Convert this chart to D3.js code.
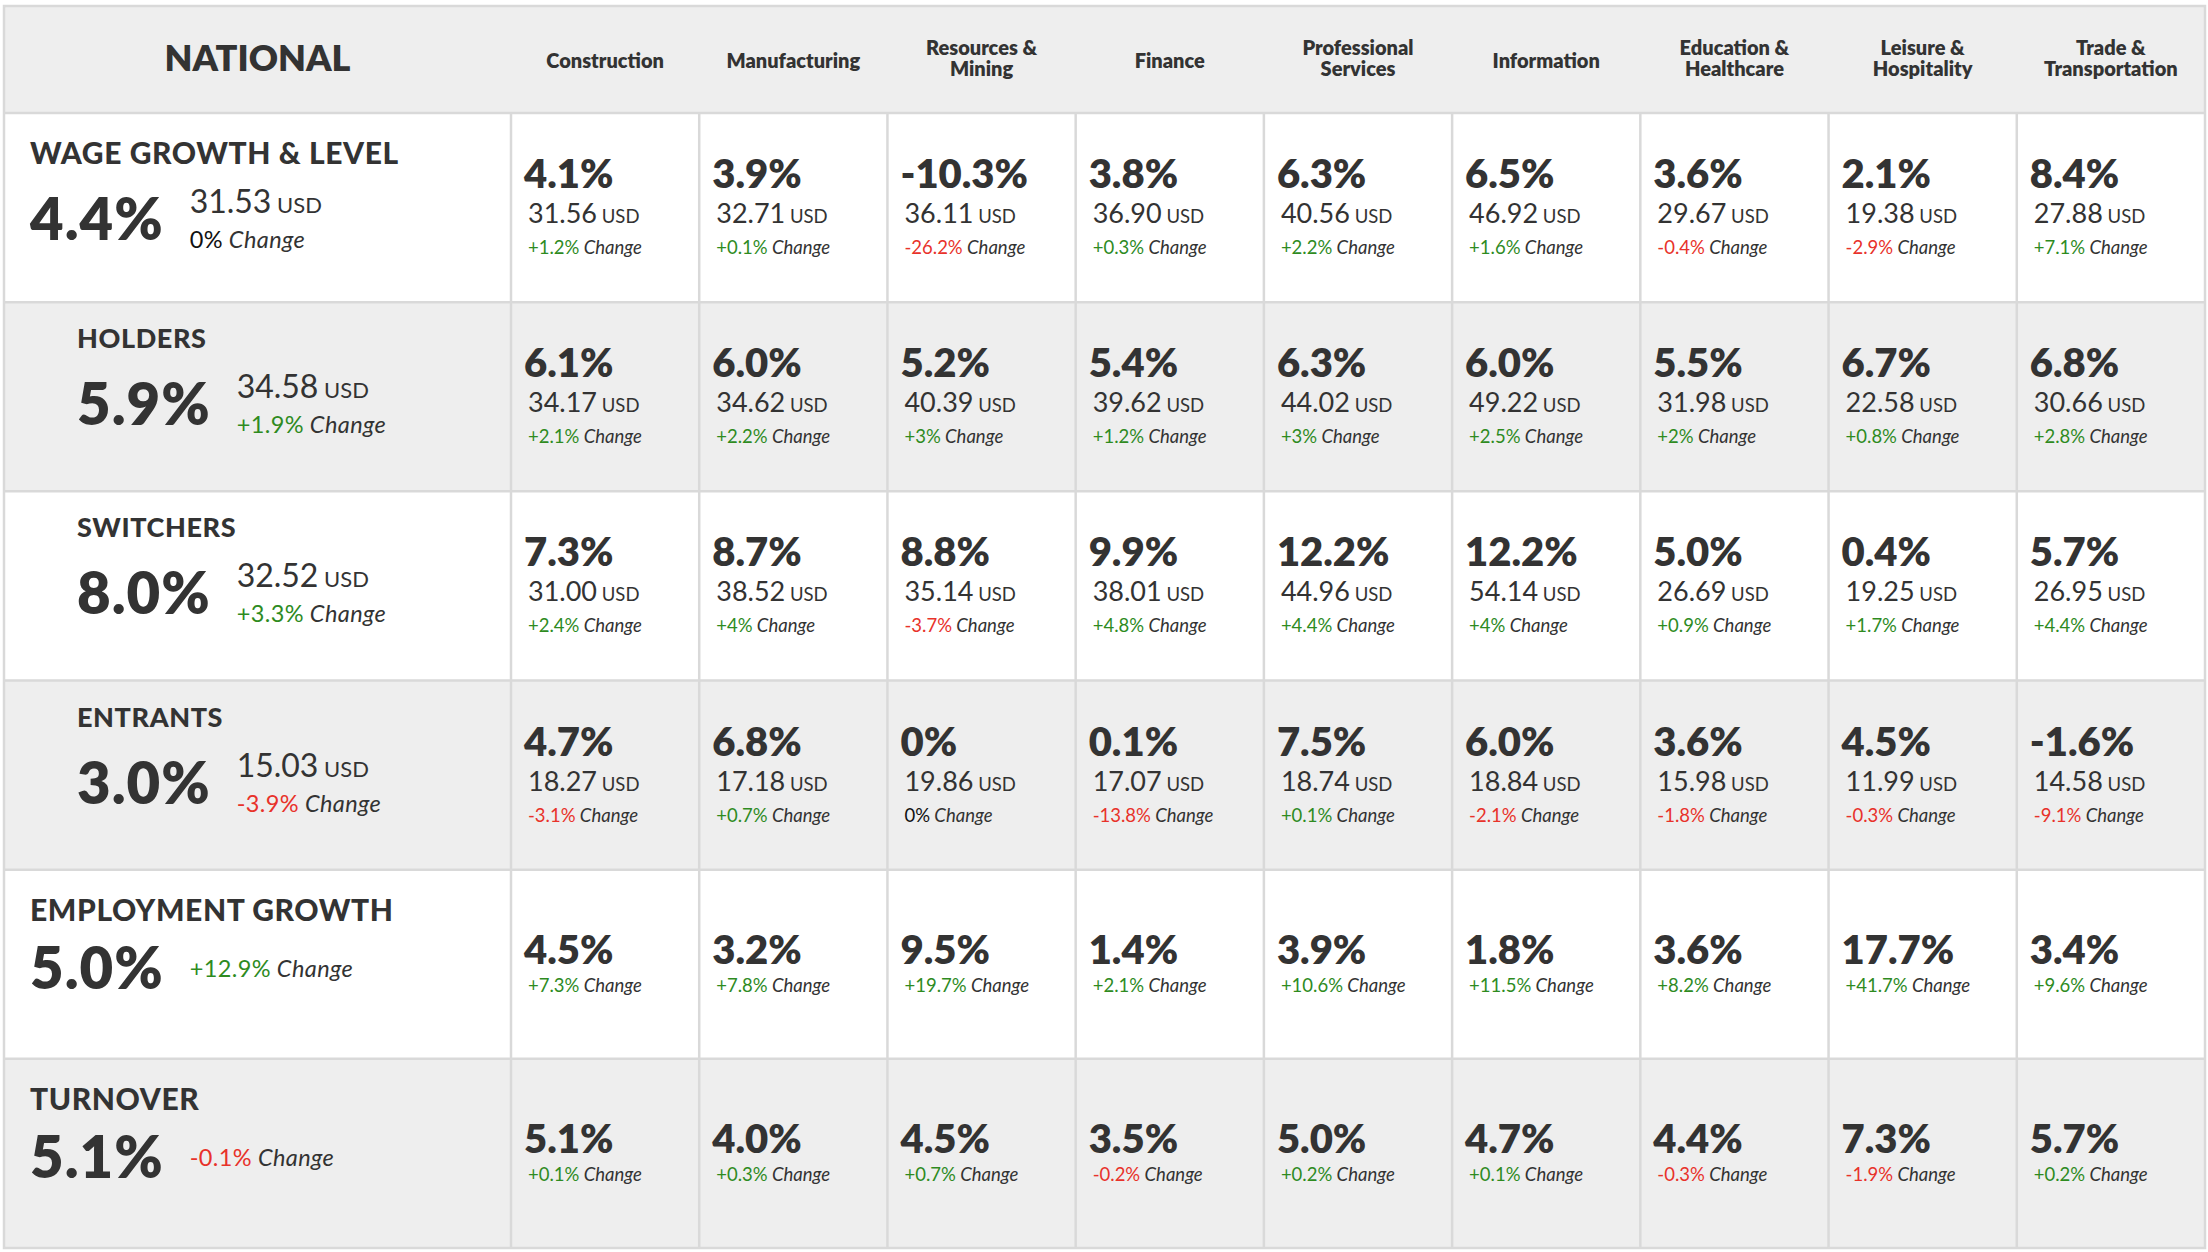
<!DOCTYPE html>
<html>
<head>
<meta charset="utf-8">
<script src="https://cdn.jsdelivr.net/npm/d3@7"></script>
<style>
  body { margin: 0; background: #fff; }
  svg text { font-family: Lato, "Open Sans", sans-serif; fill: #333; }
</style>
</head>
<body>
<svg id="grid" width="2208" height="1252"></svg>
<script>
// columns
var sectors = ["Construction", "Manufacturing", "Resources & Mining", "Finance",
  "Professional Services", "Information", "Education & Healthcare",
  "Leisure & Hospitality", "Trade & Transportation"];
var sectorLines = [["Construction"], ["Manufacturing"], ["Resources &", "Mining"], ["Finance"],
  ["Professional", "Services"], ["Information"], ["Education &", "Healthcare"],
  ["Leisure &", "Hospitality"], ["Trade &", "Transportation"]];

// rows (level 1 = indented sub group of wage)
var metrics = ["WAGE GROWTH & LEVEL", "HOLDERS", "SWITCHERS", "ENTRANTS", "EMPLOYMENT GROWTH", "TURNOVER"];
var metricLevel = [0, 1, 1, 1, 0, 0];

// national column
var nationalGrowth = [4.4, 5.9, 8.0, 3.0, 5.0, 5.1];
var nationalWage = [31.53, 34.58, 32.52, 15.03, null, null];
var nationalChange = [0, 1.9, 3.3, -3.9, 12.9, -0.1];

// per sector, one array per metric
var wageGrowth = [4.1, 3.9, -10.3, 3.8, 6.3, 6.5, 3.6, 2.1, 8.4];
var wageLevel = [31.56, 32.71, 36.11, 36.90, 40.56, 46.92, 29.67, 19.38, 27.88];
var wageChange = [1.2, 0.1, -26.2, 0.3, 2.2, 1.6, -0.4, -2.9, 7.1];

var holdersGrowth = [6.1, 6.0, 5.2, 5.4, 6.3, 6.0, 5.5, 6.7, 6.8];
var holdersLevel = [34.17, 34.62, 40.39, 39.62, 44.02, 49.22, 31.98, 22.58, 30.66];
var holdersChange = [2.1, 2.2, 3, 1.2, 3, 2.5, 2, 0.8, 2.8];

var switchersGrowth = [7.3, 8.7, 8.8, 9.9, 12.2, 12.2, 5.0, 0.4, 5.7];
var switchersLevel = [31.00, 38.52, 35.14, 38.01, 44.96, 54.14, 26.69, 19.25, 26.95];
var switchersChange = [2.4, 4, -3.7, 4.8, 4.4, 4, 0.9, 1.7, 4.4];

var entrantsGrowth = [4.7, 6.8, 0, 0.1, 7.5, 6.0, 3.6, 4.5, -1.6];
var entrantsLevel = [18.27, 17.18, 19.86, 17.07, 18.74, 18.84, 15.98, 11.99, 14.58];
var entrantsChange = [-3.1, 0.7, 0, -13.8, 0.1, -2.1, -1.8, -0.3, -9.1];

var employmentGrowth = [4.5, 3.2, 9.5, 1.4, 3.9, 1.8, 3.6, 17.7, 3.4];
var employmentChange = [7.3, 7.8, 19.7, 2.1, 10.6, 11.5, 8.2, 41.7, 9.6];

var turnoverRate = [5.1, 4.0, 4.5, 3.5, 5.0, 4.7, 4.4, 7.3, 5.7];
var turnoverChange = [0.1, 0.3, 0.7, -0.2, 0.2, 0.1, -0.3, -1.9, 0.2];

var growthRows = [wageGrowth, holdersGrowth, switchersGrowth, entrantsGrowth, employmentGrowth, turnoverRate];
var levelRows = [wageLevel, holdersLevel, switchersLevel, entrantsLevel, null, null];
var changeRows = [wageChange, holdersChange, switchersChange, entrantsChange, employmentChange, turnoverChange];

var green = "#2e8b1f", red = "#e8322a", lineCol = "#d9d9d9", shade = "#eeeeee";

function fmtGrowth(v) { return v === 0 ? "0%" : v.toFixed(1) + "%"; }
function fmtChange(v) {
  if (v === 0) return "0%";
  return (v > 0 ? "+" : "") + (+v.toFixed(1)) + "%";
}
function changeColor(v) { return v > 0 ? green : (v < 0 ? red : "#111"); }

var svg = d3.select("#grid");
// note: "top" is taken by window.top, so use x0/x1/y0/y1
var x0 = 4, x1 = 2205, y0 = 6, y1 = 1248,
  headH = 107, firstW = 507;

var x = d3.scaleBand().domain(sectors).range([x0 + firstW, x1]);
var y = d3.scaleBand().domain(metrics).range([y0 + headH, y1]);

// backgrounds
svg.append("rect").attr("x", x0).attr("y", y0).attr("width", x1 - x0)
  .attr("height", headH).attr("fill", shade);
svg.selectAll(".rowbg").data(metrics).enter().append("rect")
  .attr("class", "rowbg")
  .attr("x", x0).attr("y", function(d) { return y(d); })
  .attr("width", x1 - x0).attr("height", y.bandwidth())
  .attr("fill", function(d, i) { return i % 2 ? shade : "#fff"; });

// grid lines
var g = svg.append("g").attr("stroke", lineCol).attr("stroke-width", 2.5).attr("fill", "none");
g.append("rect").attr("x", x0).attr("y", y0).attr("width", x1 - x0).attr("height", y1 - y0);
g.selectAll(".hl").data(metrics).enter().append("line")
  .attr("x1", x0).attr("x2", x1)
  .attr("y1", function(d) { return y(d); }).attr("y2", function(d) { return y(d); });
g.selectAll(".vl").data(sectors).enter().append("line")
  .attr("x1", function(d) { return x(d); }).attr("x2", function(d) { return x(d); })
  .attr("y1", y0 + headH).attr("y2", y1);

// header
svg.append("text").attr("x", x0 + firstW / 2).attr("y", 71)
  .attr("text-anchor", "middle").attr("font-size", 36).attr("font-weight", 800)
  .text("NATIONAL");

svg.selectAll(".head").data(sectors).enter().append("text")
  .attr("class", "head")
  .attr("text-anchor", "middle").attr("font-size", 20).attr("font-weight", 800)
  .attr("transform", function(d) { return "translate(" + (x(d) + x.bandwidth() / 2) + ",0)"; })
  .each(function(d, i) {
    var lines = sectorLines[i];
    var base = lines.length === 1 ? 68 : 55;
    d3.select(this).selectAll("tspan").data(lines).enter().append("tspan")
      .attr("x", 0).attr("y", function(l, k) { return base + k * 21; })
      .text(function(l) { return l; });
  });

// national column
metrics.forEach(function(m, i) {
  var r = y(m);
  var sub = metricLevel[i] === 1;
  var hasWage = nationalWage[i] !== null;
  var lx = sub ? 77 : 30;

  svg.append("text").attr("x", lx).attr("y", r + (sub ? 46 : 51))
    .attr("font-size", sub ? 27 : 30).attr("font-weight", 900)
    .attr("letter-spacing", 0.6)
    .text(m);

  var big = svg.append("text").attr("x", lx).attr("y", r + (hasWage ? (sub ? 123 : 127) : 119))
    .attr("font-size", 58).attr("font-weight", 800).attr("letter-spacing", 1)
    .text(fmtGrowth(nationalGrowth[i]));
  var bx = lx + big.node().getComputedTextLength() + 26;

  if (hasWage) {
    var w = svg.append("text").attr("x", bx).attr("y", r + (sub ? 96 : 100))
      .attr("font-size", 32);
    w.append("tspan").text(nationalWage[i].toFixed(2));
    w.append("tspan").attr("font-size", 22).text(" USD");
  }
  var c = svg.append("text").attr("x", bx).attr("y", r + (hasWage ? (sub ? 131 : 135) : 107))
    .attr("font-size", 23.5).attr("letter-spacing", 0.4);
  c.append("tspan").attr("fill", changeColor(nationalChange[i])).text(fmtChange(nationalChange[i]));
  c.append("tspan").attr("font-style", "italic").text(" Change");
});

// sector cells
metrics.forEach(function(m, i) {
  var r = y(m);
  var hasWage = levelRows[i] !== null;
  var cell = svg.selectAll(".cell" + i).data(sectors).enter().append("g")
    .attr("transform", function(d) { return "translate(" + x(d) + "," + r + ")"; });

  cell.append("text").attr("x", 13).attr("y", hasWage ? 75 : 94)
    .attr("font-size", 40).attr("font-weight", 800)
    .text(function(d, j) { return fmtGrowth(growthRows[i][j]); });

  if (hasWage) {
    var w = cell.append("text").attr("x", 17).attr("y", 110).attr("font-size", 27);
    w.append("tspan").text(function(d, j) { return levelRows[i][j].toFixed(2); });
    w.append("tspan").attr("font-size", 18.5).text(" USD");
  }
  var c = cell.append("text").attr("x", 17).attr("y", hasWage ? 141 : 122).attr("font-size", 18.5);
  c.append("tspan")
    .attr("fill", function(d, j) { return changeColor(changeRows[i][j]); })
    .text(function(d, j) { return fmtChange(changeRows[i][j]); });
  c.append("tspan").attr("font-style", "italic").text(" Change");
});
</script>
</body>
</html>
